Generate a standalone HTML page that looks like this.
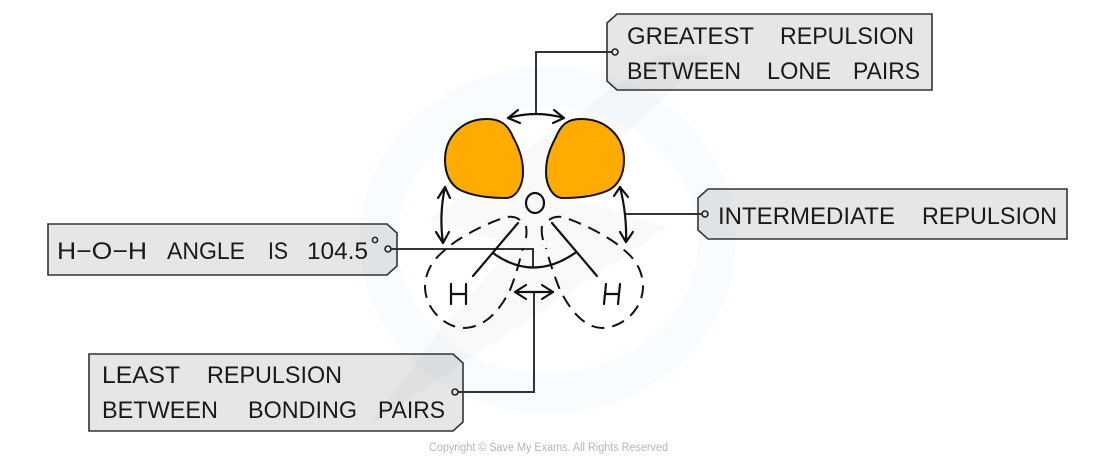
<!DOCTYPE html>
<html>
<head>
<meta charset="utf-8">
<style>
html,body{margin:0;padding:0;background:#fff;width:1100px;height:467px;overflow:hidden}
svg{display:block}
text{font-family:"Liberation Sans",sans-serif;fill:#1a1a1a}
.l{font-size:24px}
</style>
</head>
<body>
<svg width="1100" height="467" viewBox="0 0 1100 467" xmlns="http://www.w3.org/2000/svg">
<g fill="#e6e6e6" stroke="#333" stroke-width="1.6">
<path d="M617 14H932V90H617L607 81V23Z"/>
<path d="M48 224H387L397 233V266L387 275H48Z"/>
<path d="M89 354H453L463 363V422L453 431H89Z"/>
<path d="M708 189H1067V239H708L698 230V198Z"/>
</g>
<path fill-rule="evenodd" fill="#0078c8" fill-opacity=".022" d="M360 240a188 174 0 1 0 376 0a188 174 0 1 0-376 0ZM398 240a150 134 0 1 1 300 0a150 134 0 1 1-300 0Z"/>
<polygon fill="#000" fill-opacity=".025" points="428,220 660,55 710,55 560,195 668,227 370,425 440,330 515,245"/>

<g stroke="#333" stroke-width="2" fill="none">
<path d="M615 52H536V115"/>
<path d="M388 249H533V268"/>
<path d="M455 392H534V292"/>
<path d="M625 214H705"/>
</g>
<g fill="#e6e6e6" stroke="#222" stroke-width="1.6">
<circle cx="615" cy="52" r="3"/><circle cx="388" cy="249" r="3"/><circle cx="455" cy="392" r="3"/><circle cx="705" cy="214" r="3"/>
</g>

<path fill="#ffab00" stroke="#111" stroke-width="2" d="M445 160C445 137 462 119 487 119C501 119 508 125 513 137C520 150 523 160 523 172C523 186 516 198 506 198C495 198 475 197 460 190C451 185 445 175 445 160Z"/>
<path fill="#ffab00" stroke="#111" stroke-width="2" d="M624 160C624 137 607 119 581 119C567 119 561 125 556 137C549 150 546 160 546 172C546 186 553 198 563 198C574 198 594 197 609 190C618 185 624 175 624 160Z"/>

<g fill="none" stroke="#111" stroke-width="2.2" stroke-linecap="round" stroke-linejoin="round">
<path d="M508 118Q536 110 564 118"/><path d="M518 110L508 118L520 123M554 110L564 118L553 123"/>
<path d="M445 187Q439 215 443 243"/><path d="M438 198L445 187L450 198M436 232L443 243L449 232"/>
<path d="M620 187Q627 215 626 242"/><path d="M614 196L620 187L628 197M620 232L626 242L633 232"/>
<path d="M515 292H553"/><path d="M526 285L515 292L526 299M542 285L553 292L542 299"/>
<path d="M518 223L473 276M552 223L597 276"/>
<path d="M493 253Q533 282 575 253"/>
<ellipse cx="535" cy="203" rx="9" ry="10"/>
<path d="M451 284V304M466 284V304M451 294H466"/>
<path d="M606 284L604 304M620 284L618 304M605 294H619"/>
</g>
<g fill="none" stroke="#111" stroke-width="2">
<g stroke-dasharray="13 8">
<path d="M520 220C515 216 510 216 503 218C480 226 455 240 445 250C430 262 425 275 425 288C426 310 445 327 463 328C485 328 500 310 510 290C515 278 519 263 523 248"/>
<path d="M549 220C554 216 559 216 566 218C589 226 614 240 624 250C639 262 643 275 643 288C642 310 623 327 603 328C584 328 570 310 560 290C555 278 550 263 546 248"/>
</g>
<path d="M526 226Q527 232 526 238M542 226Q541 232 543 240"/>
</g>

<g class="l">
<text class="l" x="627" y="44" textLength="127" lengthAdjust="spacingAndGlyphs">GREATEST</text>
<text class="l" x="780" y="44" textLength="134" lengthAdjust="spacingAndGlyphs">REPULSION</text>
<text class="l" x="627" y="79" textLength="114" lengthAdjust="spacingAndGlyphs">BETWEEN</text>
<text class="l" x="767" y="79" textLength="64" lengthAdjust="spacingAndGlyphs">LONE</text>
<text class="l" x="853" y="79" textLength="67" lengthAdjust="spacingAndGlyphs">PAIRS</text>
<text class="l" x="57" y="259" textLength="90" lengthAdjust="spacingAndGlyphs">H−O−H</text>
<text class="l" x="167" y="259" textLength="78" lengthAdjust="spacingAndGlyphs">ANGLE</text>
<text class="l" x="268" y="259" textLength="20" lengthAdjust="spacingAndGlyphs">IS</text>
<text class="l" x="307" y="259" textLength="61" lengthAdjust="spacingAndGlyphs">104.5</text>
<text class="l" x="102" y="383" textLength="78" lengthAdjust="spacingAndGlyphs">LEAST</text>
<text class="l" x="207" y="383" textLength="135" lengthAdjust="spacingAndGlyphs">REPULSION</text>
<text class="l" x="102" y="418" textLength="116" lengthAdjust="spacingAndGlyphs">BETWEEN</text>
<text class="l" x="248" y="418" textLength="109" lengthAdjust="spacingAndGlyphs">BONDING</text>
<text class="l" x="378" y="418" textLength="67" lengthAdjust="spacingAndGlyphs">PAIRS</text>
<text class="l" x="718" y="224" textLength="177" lengthAdjust="spacingAndGlyphs">INTERMEDIATE</text>
<text class="l" x="922" y="224" textLength="135" lengthAdjust="spacingAndGlyphs">REPULSION</text>
</g>
<circle cx="375" cy="240" r="2.6" fill="none" stroke="#1a1a1a" stroke-width="1.5"/>
<text x="429" y="451" font-size="11.5" textLength="239" lengthAdjust="spacingAndGlyphs" style="fill:#b5b5b5">Copyright © Save My Exams. All Rights Reserved</text>
</svg>
</body>
</html>
